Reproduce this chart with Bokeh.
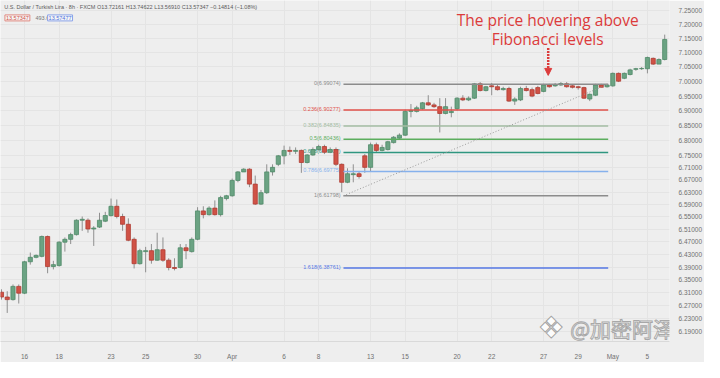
import numpy as np
from bokeh.plotting import figure
from bokeh.models import (Range1d, FixedTicker, PrintfTickFormatter, Label, Arrow,
                          NormalHead, ColumnDataSource)
from bokeh.embed import file_html
from bokeh.resources import INLINE
from bokeh.core.properties import value

# ---------------- data (8h candles, USD/TRY, 16 Mar - 5 May) ----------------
opens = [6.312, 6.297, 6.289, 6.330, 6.309, 6.407, 6.421, 6.424, 6.487, 6.392,
         6.395, 6.469, 6.478, 6.493, 6.539, 6.539, 6.511, 6.517, 6.536, 6.554,
         6.584, 6.551, 6.526, 6.478, 6.401, 6.439, 6.442, 6.412, 6.445, 6.412,
         6.389, 6.389, 6.451, 6.439, 6.478, 6.569, 6.557, 6.578, 6.557, 6.609,
         6.618, 6.668, 6.696, 6.705, 6.656, 6.591, 6.628, 6.696, 6.721, 6.749,
         6.767, 6.764, 6.767, 6.727, 6.752, 6.770, 6.780, 6.761, 6.770, 6.721,
         6.662, 6.687, 6.690, 6.749, 6.711, 6.786, 6.767, 6.770, 6.793, 6.808,
         6.818, 6.898, 6.898, 6.907, 6.927, 6.920, 6.914, 6.891, 6.894, 6.907,
         6.943, 6.937, 6.943, 6.992, 6.969, 6.985, 6.982, 6.972, 6.976, 6.933,
         6.937, 6.976, 6.972, 6.979, 6.966, 6.988, 6.985, 6.988, 6.992, 6.985,
         6.982, 6.979, 6.940, 6.953, 6.988, 6.982, 6.985, 7.028, 7.011, 7.024,
         7.042, 7.044, 7.044, 7.080, 7.060, 7.076]
closes = [6.297, 6.289, 6.330, 6.309, 6.407, 6.421, 6.427, 6.487, 6.392, 6.398,
          6.469, 6.478, 6.493, 6.539, 6.542, 6.511, 6.514, 6.539, 6.554, 6.584,
          6.551, 6.526, 6.475, 6.401, 6.442, 6.442, 6.412, 6.445, 6.412, 6.389,
          6.386, 6.451, 6.442, 6.478, 6.569, 6.557, 6.578, 6.557, 6.612, 6.618,
          6.668, 6.696, 6.705, 6.656, 6.591, 6.628, 6.696, 6.711, 6.749, 6.767,
          6.764, 6.767, 6.727, 6.752, 6.770, 6.780, 6.761, 6.770, 6.721, 6.662,
          6.690, 6.690, 6.681, 6.711, 6.786, 6.767, 6.777, 6.796, 6.811, 6.818,
          6.898, 6.901, 6.910, 6.927, 6.920, 6.914, 6.891, 6.914, 6.898, 6.943,
          6.937, 6.943, 6.992, 6.969, 6.982, 6.982, 6.972, 6.976, 6.933, 6.940,
          6.976, 6.969, 6.950, 6.959, 6.988, 6.982, 6.988, 6.993, 6.982, 6.980,
          6.979, 6.943, 6.956, 6.988, 6.980, 6.988, 7.028, 7.001, 7.028, 7.040,
          7.044, 7.045, 7.083, 7.060, 7.076, 7.146]
highs = [6.321, 6.315, 6.336, 6.336, 6.410, 6.436, 6.430, 6.490, 6.490, 6.410,
         6.472, 6.484, 6.499, 6.542, 6.551, 6.545, 6.520, 6.563, 6.566, 6.609,
         6.606, 6.560, 6.545, 6.484, 6.448, 6.454, 6.463, 6.499, 6.484, 6.418,
         6.418, 6.463, 6.463, 6.484, 6.581, 6.584, 6.584, 6.603, 6.618, 6.621,
         6.674, 6.699, 6.708, 6.708, 6.684, 6.637, 6.721, 6.721, 6.752, 6.783,
         6.780, 6.777, 6.770, 6.755, 6.777, 6.786, 6.786, 6.777, 6.777, 6.724,
         6.708, 6.721, 6.699, 6.755, 6.793, 6.793, 6.786, 6.799, 6.815, 6.824,
         6.904, 6.923, 6.917, 6.930, 6.953, 6.927, 6.943, 6.943, 6.914, 6.946,
         6.953, 6.949, 6.995, 6.998, 6.985, 6.995, 6.988, 6.982, 6.982, 6.946,
         6.982, 6.985, 6.979, 6.985, 6.992, 6.992, 6.995, 6.998, 6.998, 6.988,
         6.985, 6.982, 6.959, 6.992, 6.992, 6.992, 7.031, 7.031, 7.031, 7.044,
         7.047, 7.050, 7.086, 7.083, 7.080, 7.163]
lows = [6.289, 6.248, 6.286, 6.277, 6.306, 6.398, 6.418, 6.421, 6.371, 6.383,
        6.392, 6.439, 6.463, 6.490, 6.505, 6.499, 6.457, 6.514, 6.533, 6.551,
        6.545, 6.505, 6.472, 6.386, 6.398, 6.374, 6.401, 6.410, 6.407, 6.380,
        6.380, 6.386, 6.415, 6.436, 6.475, 6.545, 6.554, 6.554, 6.551, 6.603,
        6.615, 6.662, 6.696, 6.646, 6.588, 6.588, 6.624, 6.684, 6.715, 6.721,
        6.752, 6.755, 6.693, 6.724, 6.749, 6.767, 6.755, 6.758, 6.715, 6.630,
        6.659, 6.662, 6.674, 6.693, 6.696, 6.761, 6.764, 6.767, 6.790, 6.805,
        6.815, 6.878, 6.894, 6.904, 6.917, 6.910, 6.827, 6.888, 6.878, 6.901,
        6.933, 6.933, 6.940, 6.966, 6.966, 6.953, 6.969, 6.969, 6.930, 6.920,
        6.933, 6.966, 6.946, 6.956, 6.963, 6.979, 6.982, 6.985, 6.979, 6.976,
        6.972, 6.940, 6.933, 6.950, 6.979, 6.979, 6.982, 6.998, 7.008, 7.021,
        7.037, 7.040, 7.028, 7.057, 7.060, 7.073]

x_tick_idx = [4, 10, 19, 25, 34, 40, 49, 55, 64, 70, 79, 85, 94, 100, 106, 112]
x_tick_labels = ["16", "18", "23", "25", "30", "Apr", "6", "8", "13", "15",
                 "20", "22", "27", "29", "May", "5"]
y_ticks = [7.25, 7.20, 7.15, 7.10, 7.05, 7.00, 6.95, 6.90, 6.85, 6.80, 6.75,
           6.71, 6.67, 6.63, 6.59, 6.55, 6.51, 6.47, 6.43, 6.39, 6.35, 6.31,
           6.27, 6.23, 6.19]

fib_high = 6.99074
fib_low = 6.61798
fib_ratios = [0, 0.236, 0.382, 0.5, 0.618, 0.786, 1, 1.618]
fib_colors = ["#8c8c8c", "#e0504a", "#a3bca3", "#5cae5e", "#2f9680", "#86b1ec",
              "#8c8c8c", "#5577e4"]
fib_start_idx = 59.3
fib_end_idx = 105.2

header = "U.S. Dollar / Turkish Lira · 8h · FXCM   O13.72161  H13.74622  L13.56910  C13.57347  −0.14814 (−1.08%)"
annot_lines = ["The price hovering above", "Fibonacci levels"]

# ---------------- figure ----------------
BG = "#eeeeee"
p = figure(width=704, height=362, output_backend="svg", toolbar_location=None,
           y_axis_type="log", y_axis_location="right",
           x_range=Range1d(-0.167, 115.83), y_range=Range1d(6.161, 7.284),
           min_border_left=0, min_border_top=0, min_border_right=2,
           min_border_bottom=0)
p.background_fill_color = BG
p.border_fill_color = BG
p.outline_line_color = None

p.yaxis.ticker = FixedTicker(ticks=y_ticks)
p.yaxis.formatter = PrintfTickFormatter(format="%.5f")
p.yaxis.major_label_text_font_size = "6.5px"
p.yaxis.major_label_text_color = "#707070"
p.yaxis.major_label_text_font = "Liberation Sans"
p.yaxis.axis_line_color = None
p.yaxis.major_tick_line_color = None
p.yaxis.minor_tick_line_color = None
p.yaxis.major_label_standoff = 3

p.xaxis.ticker = FixedTicker(ticks=x_tick_idx)
p.xaxis.major_label_overrides = {t: l for t, l in zip(x_tick_idx, x_tick_labels)}
p.xaxis.major_label_text_font_size = "6.5px"
p.xaxis.major_label_text_color = "#707070"
p.xaxis.major_label_text_font = "Liberation Sans"
p.xaxis.axis_line_color = "#d9d9d9"
p.xaxis.major_tick_line_color = None
p.xaxis.minor_tick_line_color = None
p.xaxis.major_label_standoff = 5

p.ygrid.ticker = FixedTicker(ticks=y_ticks)
p.xgrid.ticker = FixedTicker(ticks=x_tick_idx)
p.grid.grid_line_color = "#e4e4e4"
p.grid.grid_line_width = 1

# ---------------- fibonacci ----------------
fib_levels = [fib_high - r * (fib_high - fib_low) for r in fib_ratios]
fib_text = ["%g(%.5f)" % (r, v) for r, v in zip(fib_ratios, fib_levels)]
fsrc = ColumnDataSource(dict(x0=[fib_start_idx] * len(fib_levels),
                             x1=[fib_end_idx] * len(fib_levels),
                             xl=[fib_start_idx - 0.5] * len(fib_levels),
                             y=fib_levels, c=fib_colors, t=fib_text))
p.text(x="xl", y="y", text="t", source=fsrc, text_color="c",
       text_font_size="5.5px", text_align="right", text_baseline="middle",
       text_font=value("Liberation Sans"), y_offset=-1)

# ---------------- candles ----------------
idx = np.arange(len(opens))
o = np.array(opens); c = np.array(closes); h = np.array(highs); l = np.array(lows)
up = c >= o
dn = ~up
p.segment(idx, h, idx, l, line_color="#8f8f8f", line_width=1)
p.vbar(x=idx[up], top=c[up], bottom=o[up], width=0.72,
       fill_color="#6ba383", line_color="#4f8a68", line_width=0.8)
p.vbar(x=idx[dn], top=o[dn], bottom=c[dn], width=0.72,
       fill_color="#d05246", line_color="#b03c32", line_width=0.8)

# fib lines on top
p.segment(x0="x0", y0="y", x1="x1", y1="y", source=fsrc, line_color="c",
          line_width=1.5)
# dotted trend line of the fib drawing
p.line([fib_start_idx, fib_end_idx], [fib_low, fib_high], line_color="#9a9a9a",
       line_dash="1 2", line_width=1)

# ---------------- annotation ----------------
RED = "#dc3b3b"
ann_x = 94.7
for txt, yv in zip(annot_lines, [7.216, 7.149]):
    p.add_layout(Label(x=ann_x, y=yv, text=txt, text_align="center",
                       text_baseline="middle", text_font_size="15.5px",
                       text_font="Open Sans", text_color=RED))
p.add_layout(Arrow(end=NormalHead(size=7, fill_color=RED, line_color=RED),
                   x_start=94.8, y_start=7.116, x_end=94.8, y_end=7.021,
                   line_color=RED, line_width=2.5, line_dash="2 1"))

# ---------------- header ----------------
p.add_layout(Label(x=0.5, y=7.262, text=header, text_baseline="middle",
                   text_font_size="5.5px", text_color="#5a5a5a",
                   text_font="Liberation Sans"))
p.add_layout(Label(x=0.6, y=7.222, text="13.57347", text_baseline="middle",
                   text_font_size="5.5px", text_color="#d05246",
                   text_font="Liberation Sans", border_line_color="#e08a80",
                   background_fill_color="#f6f6f6", padding=1))
p.add_layout(Label(x=5.9, y=7.222, text="493.6", text_baseline="middle",
                   text_font_size="5.5px", text_color="#777777",
                   text_font="Liberation Sans"))
p.add_layout(Label(x=8.0, y=7.222, text="13.57477", text_baseline="middle",
                   text_font_size="5.5px", text_color="#4a6ee0",
                   text_font="Liberation Sans", border_line_color="#8aa2ea",
                   background_fill_color="#f6f6f6", padding=1))

# ---------------- watermark ----------------
p.add_layout(Label(x=95.3, y=6.205, text="❖", text_align="center",
                   text_baseline="middle", text_font_size="30px",
                   text_font="DejaVu Sans", text_color="#ffffff",
                   text_alpha=0.9, text_outline_color="#9a9a9a"))
p.add_layout(Label(x=98.6, y=6.202, text="@加密阿泽", text_align="left",
                   text_baseline="middle", text_font_size="21px",
                   text_font="Noto Sans CJK SC", text_color="#ffffff",
                   text_alpha=0.92, text_outline_color="#a0a0a0"))

open("out.html", "w").write(file_html(p, INLINE))
